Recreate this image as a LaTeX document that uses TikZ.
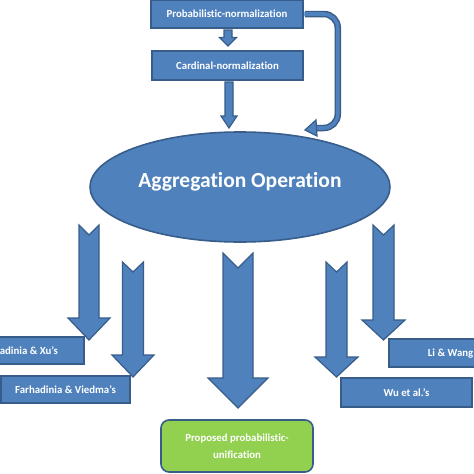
\documentclass[tikz,border=0pt]{standalone}
\usepackage{fontspec}
\setmainfont{Carlito}[Ligatures=NoCommon]
\usetikzlibrary{calc,shapes.geometric}
\definecolor{fillblue}{HTML}{4F81BD}
\definecolor{edgeblue}{HTML}{385D8A}
\definecolor{fillgreen}{HTML}{92D050}
\tikzset{
  box/.style={draw=edgeblue, line width=1.6pt, fill=fillblue, text=white,
    font=\bfseries\fontsize{10.8}{17}\selectfont, inner sep=0pt, align=center},
  greenbox/.style={box, fill=fillgreen, rounded corners=8pt},
  blockarr/.style={draw=edgeblue, line width=1.2pt, fill=fillblue, line join=miter},
}
% cx, top, notch, half, headhalf, headstart, tip
\newcommand\blockdown[7]{%
  \draw[blockarr] (#1-#4,#2) -- (#1,#2+#3) -- (#1+#4,#2) -- (#1+#4,#6) -- (#1+#5,#6)
    -- (#1,#7) -- (#1-#5,#6) -- (#1-#4,#6) -- cycle;}
\begin{document}
\begin{tikzpicture}[x=1pt,y=-1pt]
\useasboundingbox (0,0) rectangle (474,474);
\fill[white] (0,0) rectangle (474,474);

\node[box, minimum width=152pt, minimum height=28pt] (p1) at (227,14) {Probabilistic-normalization};
\node[box, minimum width=151pt, minimum height=29pt] (p2) at (227.5,65.5) {Cardinal-normalization};
\node[ellipse, draw=edgeblue, line width=1.6pt, fill=fillblue, minimum width=300pt, minimum height=110pt,
  inner sep=0pt,
  label={[text=white, font=\bfseries\fontsize{21.5}{24}\selectfont, inner sep=0pt, yshift=5pt]center:Aggregation Operation}] (agg) at (240,187) {};

% curved connector from p1 to the ellipse
\coordinate (cend) at (316,128);
\draw[edgeblue, line width=6.5pt, rounded corners=14pt] ($(p1.east)+(1,0)$) -- ($(p1.east)+(34,0)$) |- (cend);
\draw[fillblue, line width=3.6pt, rounded corners=14pt] ($(p1.east)+(0.5,0)$) -- ($(p1.east)+(34,0)$) |- ($(cend)+(0.5,0)$);
\draw[blockarr] (316,120) -- (305,130) -- (317,136) -- cycle;

% small arrows
\blockdown{228}{30}{0}{4}{8.5}{37.5}{46}
\blockdown{229}{82}{0}{4}{8}{116}{128}

% bottom boxes
\node[box, minimum width=130pt, minimum height=27pt] (xu) at (19,350.5) {Farhadinia \& Xu’s};
\node[box, minimum width=129pt, minimum height=27pt] (vi) at (65.5,389.5) {Farhadinia \& Viedma’s};
\node[box, minimum width=130pt, minimum height=28pt] (li) at (454,353) {Li \& Wang’s};
\node[box, minimum width=131pt, minimum height=29pt] (wu) at (406.5,392.5) {Wu et al.’s};
\node[greenbox, minimum width=152pt, minimum height=52pt] (pr) at (237,446) {Proposed probabilistic-\\unification};

% big block arrows
\blockdown{89}{225}{10}{10}{21}{318}{340}
\blockdown{133}{262}{10}{10.5}{21}{355}{377}
\blockdown{238}{253}{15}{15}{30}{378}{408}
\blockdown{336.5}{262}{10}{10.5}{21.5}{357}{377}
\blockdown{383.5}{225}{10}{10.5}{21.5}{320}{340}
\end{tikzpicture}
\end{document}
